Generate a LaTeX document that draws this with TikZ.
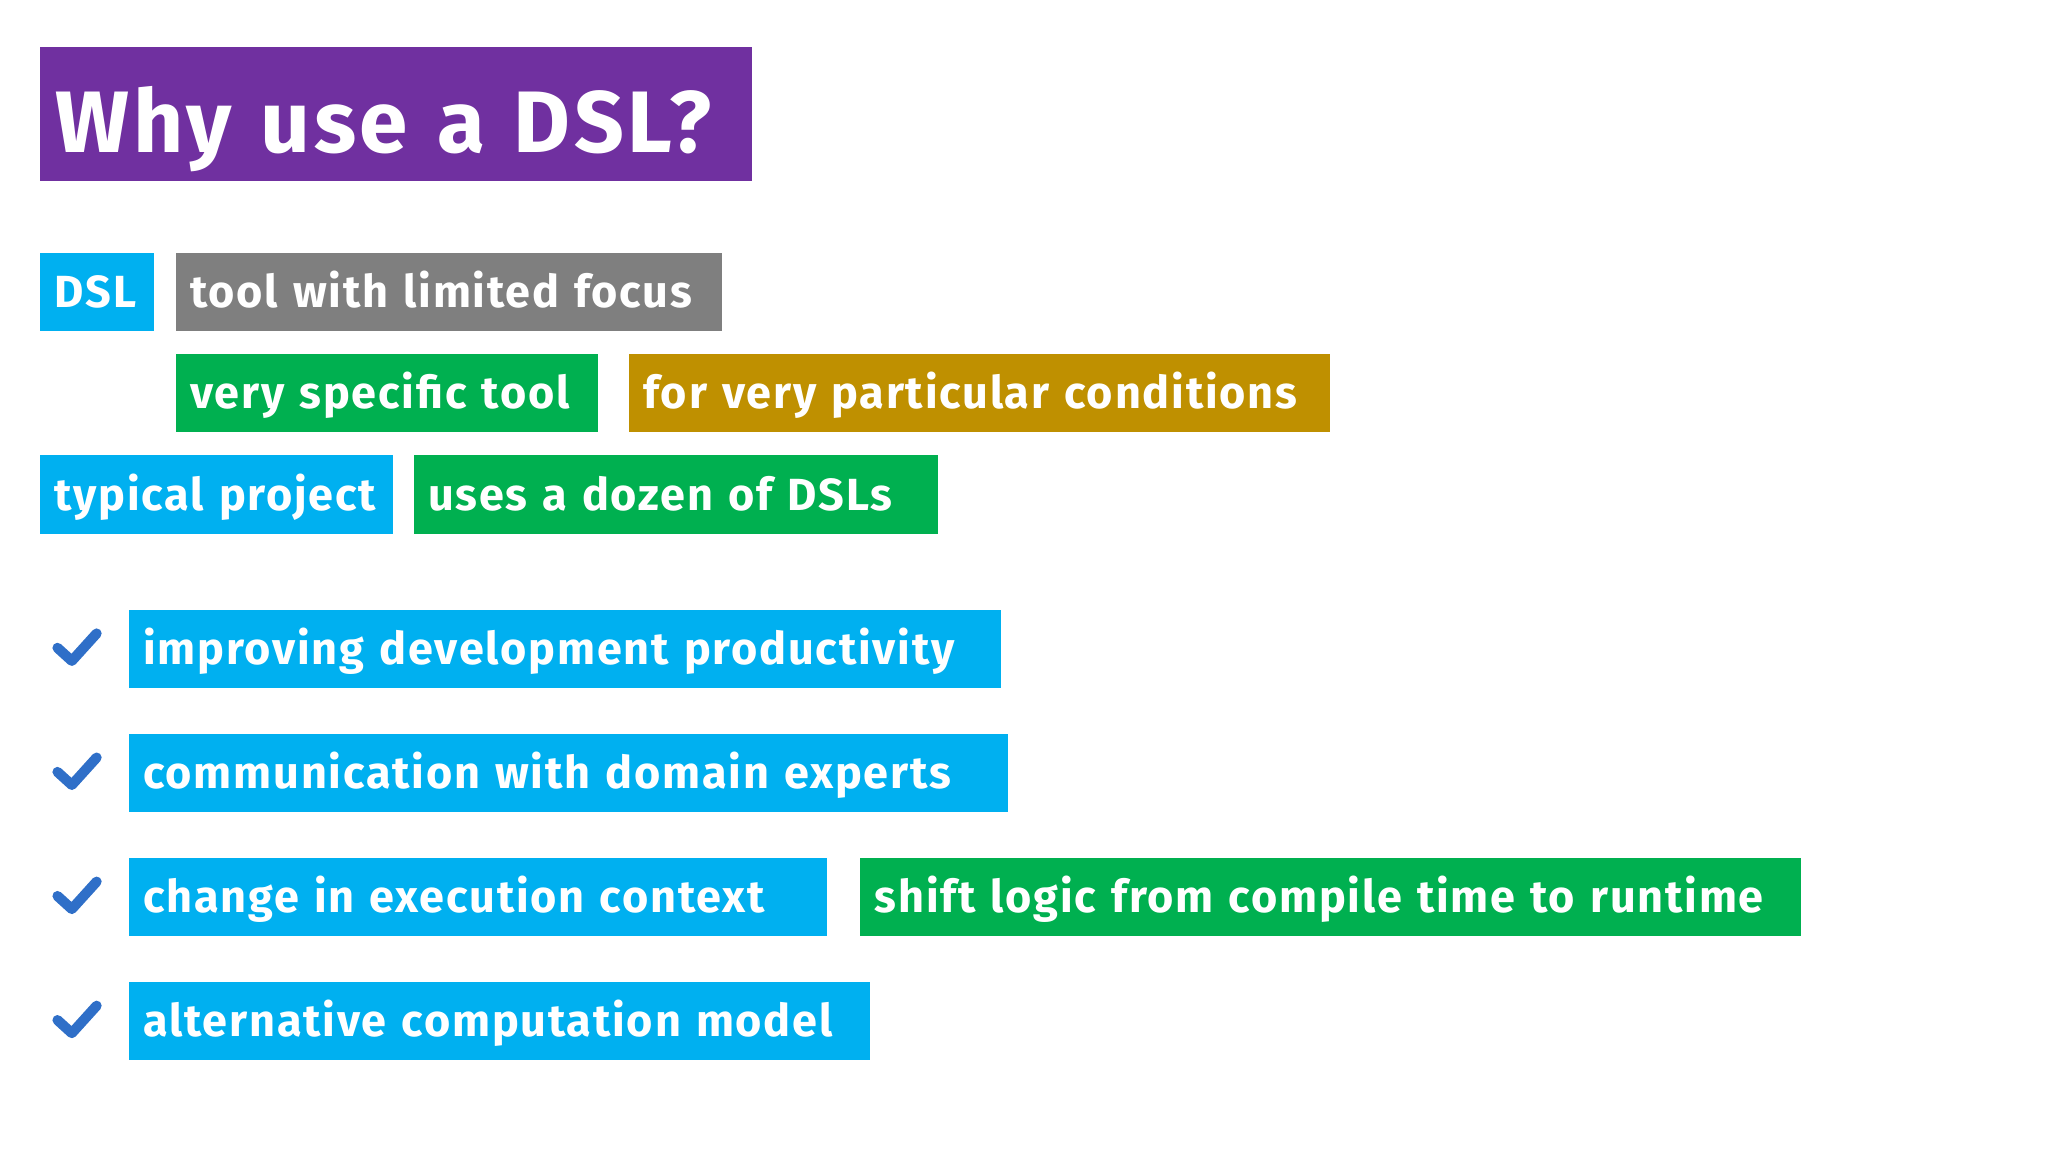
\documentclass[tikz,border=0pt]{standalone}
\usepackage{fontspec}
\setmainfont{Fira Sans}[LetterSpace=4]
\definecolor{cpurple}{HTML}{7030A0}
\definecolor{ccyan}{HTML}{00B0F0}
\definecolor{cgray}{HTML}{7F7F7F}
\definecolor{cgreen}{HTML}{00B050}
\definecolor{cgold}{HTML}{BF9000}
\definecolor{ccheck}{HTML}{2F6FC8}
\tikzset{
 tag/.style={anchor=north west,inner xsep=0.11cm,inner ysep=0pt,text=white,font=\fontsize{9.8}{12}\selectfont\bfseries,text height=0.42cm,text depth=0.18cm,align=left},
 chk/.style={ccheck,line width=2.2pt,line cap=round,line join=round}
}
\begin{document}
\begin{tikzpicture}[x=0.01cm,y=-0.01cm]
\useasboundingbox (0,0) rectangle (1568,882);
\fill[white] (0,0) rectangle (1568,882);
\node[anchor=north west,fill=cpurple,text width=5.21cm,inner ysep=0pt,text height=0.81cm,text depth=0.22cm,text=white,font=\fontsize{19}{24}\selectfont\bfseries,inner xsep=0.12cm,align=left] (title) at (30,35) {\mbox{Why use a DSL?}};
\node[tag,fill=ccyan,text width=0.65cm] (dsl) at (30,193) {\mbox{DSL}};
\node[tag,fill=cgray,text width=3.96cm] (tool) at (134,193) {\mbox{tool with limited focus}};
\node[tag,fill=cgreen,text width=3.01cm] (spec) at (134,270) {\mbox{very specific tool}};
\node[tag,fill=cgold,text width=5.14cm] (cond) at (481,270) {\mbox{for very particular conditions}};
\node[tag,fill=ccyan,text width=2.48cm] (proj) at (30,348) {\mbox{typical project}};
\node[tag,fill=cgreen,text width=3.79cm] (dozen) at (316,348) {\mbox{uses a dozen of DSLs}};
\node[tag,fill=ccyan,text width=6.45cm] (b1) at (98,466) {\mbox{improving development productivity}};
\node[tag,fill=ccyan,text width=6.51cm] (b2) at (98,561) {\mbox{communication with domain experts}};
\node[tag,fill=ccyan,text width=5.12cm] (b3) at (98,656) {\mbox{change in execution context}};
\node[tag,fill=cgreen,text width=6.98cm] (b3b) at (658,656) {\mbox{shift logic from compile time to runtime}};
\node[tag,fill=ccyan,text width=5.45cm] (b4) at (98,751) {\mbox{alternative computation model}};
\foreach \y/\n in {497/c1,592/c2,687/c3,782/c4}{
  \coordinate (\n) at (58,\y);
  \draw[chk] ([shift={(-14,-1)}]\n) -- ([shift={(-3,9)}]\n) -- ([shift={(16,-12)}]\n);
}
\end{tikzpicture}
\end{document}
